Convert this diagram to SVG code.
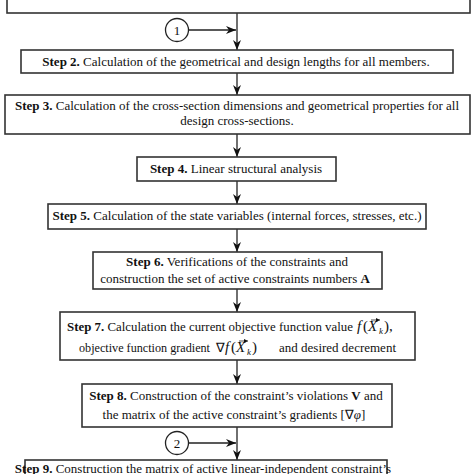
<svg xmlns="http://www.w3.org/2000/svg" width="474" height="474" viewBox="0 0 474 474">
<defs>
<style>
.box{fill:#fff;stroke:#333;stroke-width:1.6}
.ln{fill:none;stroke:#222;stroke-width:1.3}
.vec{fill:none;stroke:#222;stroke-width:0.8}
.t{font-family:"Liberation Serif","Times New Roman",serif;font-size:13px;fill:#111;text-anchor:middle}
.s{text-anchor:start}
.e{text-anchor:end}
.m{font-size:15px}
.b{font-weight:bold}
.i{font-style:italic}
.sub{font-style:italic;font-size:9px}
.circ{fill:#fff;stroke:#222;stroke-width:1.3}
</style>
<marker id="ah" markerWidth="10" markerHeight="10" viewBox="0 0 10 10" refX="10" refY="5" orient="auto" markerUnits="userSpaceOnUse">
<path d="M0,1 L10,5 L0,9 L3,5 Z" fill="#111"/>
</marker>
<marker id="vh" markerWidth="4" markerHeight="4" viewBox="0 0 4 4" refX="4" refY="2" orient="auto" markerUnits="userSpaceOnUse">
<path d="M0,0 L4,2 L0,4 Z" fill="#111"/>
</marker>
</defs>
<rect width="474" height="474" fill="#fff"/>
<g id="connectors">
<line class="ln" x1="237" y1="13" x2="237" y2="50" marker-end="url(#ah)"/>
<line class="ln" x1="189" y1="30" x2="236" y2="30" marker-end="url(#ah)"/>
<line class="ln" x1="237" y1="73" x2="237" y2="95" marker-end="url(#ah)"/>
<line class="ln" x1="237" y1="134" x2="237" y2="157" marker-end="url(#ah)"/>
<line class="ln" x1="237" y1="181" x2="237" y2="204" marker-end="url(#ah)"/>
<line class="ln" x1="237" y1="229" x2="237" y2="252" marker-end="url(#ah)"/>
<line class="ln" x1="237" y1="289" x2="237" y2="312" marker-end="url(#ah)"/>
<line class="ln" x1="237" y1="360" x2="237" y2="384" marker-end="url(#ah)"/>
<line class="ln" x1="237" y1="427" x2="237" y2="460" marker-end="url(#ah)"/>
<line class="ln" x1="189" y1="443" x2="236" y2="443" marker-end="url(#ah)"/>
</g>
<g id="step1">
<rect class="box" x="7" y="-20" width="463" height="33"/>
</g>
<g id="c1">
<circle class="circ" cx="177" cy="30" r="11.5"/>
<text class="t" x="177" y="34.5">1</text>
</g>
<g id="step2">
<rect class="box" x="21" y="50" width="432" height="23"/>
<text class="t" x="236" y="66"><tspan class="b">Step 2.</tspan> Calculation of the geometrical and design lengths for all members.</text>
</g>
<g id="step3">
<rect class="box" x="5" y="95" width="465" height="39"/>
<text class="t" x="237" y="110"><tspan class="b">Step 3.</tspan> Calculation of the cross-section dimensions and geometrical properties for all</text>
<text class="t" x="237" y="125">design cross-sections.</text>
</g>
<g id="step4">
<rect class="box" x="137" y="157" width="199" height="24"/>
<text class="t" x="236" y="173"><tspan class="b">Step 4.</tspan> Linear structural analysis</text>
</g>
<g id="step5">
<rect class="box" x="48" y="204" width="378" height="25"/>
<text class="t" x="237" y="220"><tspan class="b">Step 5.</tspan> Calculation of the state variables (internal forces, stresses, etc.)</text>
</g>
<g id="step6">
<rect class="box" x="93" y="252" width="289" height="37"/>
<text class="t" x="237" y="266"><tspan class="b">Step 6.</tspan> Verifications of the constraints and</text>
<text class="t" x="235" y="283">construction the set of active constraints numbers  <tspan class="b">A</tspan></text>
</g>
<g id="step7">
<rect class="box" x="60" y="312" width="355" height="48"/>
<text class="t s" x="67" y="331" textLength="286" lengthAdjust="spacingAndGlyphs"><tspan class="b">Step 7.</tspan> Calculation the current objective function value</text>
<text class="t s m" y="331"><tspan class="i" x="357">f</tspan><tspan x="363">(</tspan><tspan class="i" x="368">X</tspan><tspan class="sub" x="379" dy="3">k</tspan><tspan x="384" dy="-3">),</tspan></text>
<line class="vec" x1="371" y1="320" x2="380" y2="320" marker-end="url(#vh)"/>
<text class="t s" x="79" y="352" textLength="131" lengthAdjust="spacingAndGlyphs">objective function gradient</text>
<text class="t s m" y="352"><tspan x="216" font-size="13">∇</tspan><tspan class="i" x="225">f</tspan><tspan x="231">(</tspan><tspan class="i" x="236">X</tspan><tspan class="sub" x="247" dy="3">k</tspan><tspan x="252" dy="-3">)</tspan></text>
<line class="vec" x1="239" y1="341" x2="248" y2="341" marker-end="url(#vh)"/>
<text class="t e" x="396" y="352">and desired decrement</text>
</g>
<g id="step8">
<rect class="box" x="82" y="384" width="310" height="43"/>
<text class="t" x="236" y="400"><tspan class="b">Step 8.</tspan> Construction of the constraint’s violations  <tspan class="b">V</tspan>  and</text>
<text class="t" x="234" y="419">the matrix of the active constraint’s gradients  [∇<tspan class="i">φ</tspan>]</text>
</g>
<g id="c2">
<circle class="circ" cx="177" cy="443" r="11.5"/>
<text class="t" x="177" y="447.5">2</text>
</g>
<g id="step9">
<rect class="box" x="25" y="460" width="362" height="30"/>
<text class="t" x="203" y="473"><tspan class="b">Step 9.</tspan> Construction the matrix of active linear-independent constraint’s</text>
</g>
</svg>
